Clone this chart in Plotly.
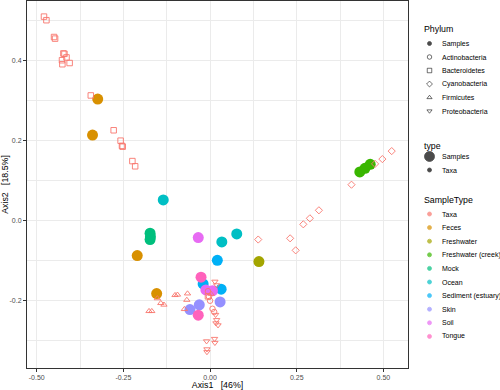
import plotly.graph_objects as go

W, H = 500, 390

# ---------------- data ----------------
# Sample points (Axis1, Axis2) per SampleType
feces_axis1 = [-0.324, -0.339, -0.210, -0.154]
feces_axis2 = [0.304, 0.214, -0.087, -0.182]
freshwater_axis1 = [0.141]
freshwater_axis2 = [-0.102]
creek_axis1 = [0.432, 0.447, 0.462]
creek_axis2 = [0.122, 0.131, 0.141]
mock_axis1 = [-0.173, -0.173, -0.172]
mock_axis2 = [-0.031, -0.047, -0.040]
ocean_axis1 = [-0.135, 0.034, 0.077]
ocean_axis2 = [0.052, -0.053, -0.033]
sediment_axis1 = [0.021, -0.020, 0.032]
sediment_axis2 = [-0.099, -0.158, -0.171]
skin_axis1 = [-0.058, -0.031, 0.029]
skin_axis2 = [-0.222, -0.210, -0.203]
soil_axis1 = [-0.034, -0.012, 0.007]
soil_axis2 = [-0.042, -0.173, -0.175]
tongue_axis1 = [-0.026, -0.034]
tongue_axis2 = [-0.141, -0.236]

# Taxa points (Axis1, Axis2) per Phylum
actino_axis1 = [-0.003, 0.000, 0.007, 0.012, -0.006]
actino_axis2 = [-0.190, -0.200, -0.220, -0.228, -0.176]
bactero_axis1 = [-0.479, -0.472, -0.450, -0.447, -0.423, -0.420, -0.414, -0.427, -0.426,
                 -0.405, -0.344, -0.278, -0.258, -0.254, -0.252, -0.224, -0.216, -0.006]
bactero_axis2 = [0.510, 0.501, 0.459, 0.455, 0.418, 0.417, 0.408, 0.401, 0.391,
                 0.394, 0.313, 0.226, 0.200, 0.187, 0.185, 0.149, 0.136, -0.189]
cyano_axis1 = [0.524, 0.497, 0.476, 0.408, 0.314, 0.288, 0.269, 0.231, 0.247, 0.139]
cyano_axis2 = [0.174, 0.154, 0.142, 0.090, 0.026, 0.006, -0.009, -0.044, -0.074, -0.047]
firmi_axis1 = [-0.152, -0.142, -0.133, -0.176, -0.168, -0.101, -0.094, -0.065, -0.067, -0.074, 0.003]
firmi_axis2 = [-0.194, -0.206, -0.210, -0.226, -0.226, -0.186, -0.185, -0.182, -0.198, -0.221, -0.183]
proteo_axis1 = [0.014, 0.019, 0.016, 0.019, 0.017, 0.023, -0.010, 0.013, 0.014, -0.009, -0.009]
proteo_axis2 = [-0.152, -0.161, -0.235, -0.248, -0.256, -0.261, -0.301, -0.295, -0.305, -0.321, -0.328]

sample_types = ["Taxa", "Feces", "Freshwater", "Freshwater (creek)", "Mock", "Ocean",
                "Sediment (estuary)", "Skin", "Soil", "Tongue"]
sample_colors = ["#F8766D", "#D89000", "#A3A500", "#39B600", "#00BF7D", "#00BFC4",
                 "#00B0F6", "#9590FF", "#E76BF3", "#FF62BC"]
phyla = ["Samples", "Actinobacteria", "Bacteroidetes", "Cyanobacteria", "Firmicutes", "Proteobacteria"]
phylum_symbols = ["circle", "circle-open", "square-open", "diamond-open", "triangle-up-open", "triangle-down-open"]
type_levels = ["Samples", "Taxa"]

x_ticks = [-0.5, -0.25, 0.0, 0.25, 0.5]
x_tick_labels = ["-0.50", "-0.25", "0.00", "0.25", "0.50"]
x_minor = [-0.375, -0.125, 0.125, 0.375]
y_ticks = [-0.2, 0.0, 0.2, 0.4]
y_tick_labels = ["-0.2", "0.0", "0.2", "0.4"]
y_minor = [-0.3, -0.1, 0.1, 0.3, 0.5]

# ---------------- figure ----------------
FONT = "Liberation Sans, Arial, Helvetica, sans-serif"
fig = go.Figure()

sample_groups = [
    (feces_axis1, feces_axis2), (freshwater_axis1, freshwater_axis2), (creek_axis1, creek_axis2),
    (mock_axis1, mock_axis2), (ocean_axis1, ocean_axis2), (sediment_axis1, sediment_axis2),
    (skin_axis1, skin_axis2), (soil_axis1, soil_axis2), (tongue_axis1, tongue_axis2),
]
for (xs, ys), name, col in zip(sample_groups, sample_types[1:], sample_colors[1:]):
    fig.add_trace(go.Scatter(x=xs, y=ys, mode="markers", name=name, showlegend=False,
                             marker=dict(color=col, size=11, symbol="circle", line=dict(width=0)),
                             xaxis="x", yaxis="y"))

taxa_groups = [(actino_axis1, actino_axis2), (bactero_axis1, bactero_axis2), (cyano_axis1, cyano_axis2),
               (firmi_axis1, firmi_axis2), (proteo_axis1, proteo_axis2)]
for (xs, ys), name, sym in zip(taxa_groups, phyla[1:], phylum_symbols[1:]):
    fig.add_trace(go.Scatter(x=xs, y=ys, mode="markers", name=name, showlegend=False,
                             marker=dict(color=sample_colors[0], size=5.5, symbol=sym,
                                         line=dict(color=sample_colors[0], width=0.9)),
                             xaxis="x", yaxis="y"))

# ---------------- manual ggplot-style legend (pixel coordinate overlay) ----------------
KEY_X, TEXT_X, TITLE_X = 429.5, 440, 422
STEP = 13.5
annotations = []
key_x, key_y, key_sym, key_col, key_size = [], [], [], [], []

def title(text, y):
    annotations.append(dict(text=text, x=TITLE_X, y=y, xref="x2", yref="y2", showarrow=False,
                            xanchor="left", yanchor="middle", font=dict(size=8.8, color="black", family=FONT)))

def item(text, y):
    annotations.append(dict(text=text, x=TEXT_X, y=y, xref="x2", yref="y2", showarrow=False,
                            xanchor="left", yanchor="middle", font=dict(size=7, color="black", family=FONT)))

title("Phylum", 29)
for i, (p, s) in enumerate(zip(phyla, phylum_symbols)):
    y = 43.5 + i * STEP
    item(p, y)
    key_x.append(KEY_X); key_y.append(y); key_sym.append(s); key_col.append("black")
    key_size.append(4 if s == "circle" else 4.5)

title("type", 146)
for i, t in enumerate(type_levels):
    y = 156.5 + i * STEP
    item(t, y)
    key_x.append(KEY_X); key_y.append(y); key_sym.append("circle"); key_col.append("black")
    key_size.append(10 if t == "Samples" else 4)

title("SampleType", 199.5)
for i, (t, c) in enumerate(zip(sample_types, sample_colors)):
    y = 214 + i * 13.6
    item(t, y)
    key_x.append(KEY_X); key_y.append(y); key_sym.append("circle"); key_col.append(c)
    key_size.append(4)

fig.add_trace(go.Scatter(x=key_x, y=key_y, mode="markers", showlegend=False, hoverinfo="skip",
                         marker=dict(symbol=key_sym, color=key_col, size=key_size,
                                     line=dict(color=key_col, width=0.8)),
                         xaxis="x2", yaxis="y2", cliponaxis=False))

axis_common = dict(
    showline=True, mirror=True, linecolor="#333333", linewidth=1,
    ticks="outside", ticklen=3, tickcolor="#333333", tickwidth=0.8,
    tickfont=dict(size=7, color="#4D4D4D", family=FONT),
    showgrid=True, gridcolor="#EBEBEB", gridwidth=0.9, zeroline=False,
    automargin=False,
)

fig.update_layout(
    width=W, height=H,
    margin=dict(l=0, r=0, t=0, b=0),
    paper_bgcolor="white", plot_bgcolor="rgba(0,0,0,0)",
    font=dict(family=FONT),
    showlegend=False,
    xaxis=dict(domain=[27 / W, 408 / W], range=[-0.528, 0.571], anchor="y",
               tickmode="array", tickvals=x_ticks, ticktext=x_tick_labels,
               minor=dict(tickmode="array", tickvals=x_minor, showgrid=True,
                          gridcolor="#EBEBEB", gridwidth=0.45, ticks=""),
               title=dict(text="Axis1\u00a0\u00a0\u00a0[46%]", font=dict(size=8.8, color="black", family=FONT),
                          standoff=2),
               **axis_common),
    yaxis=dict(domain=[(H - 368) / H, (H - 1) / H], range=[-0.368, 0.549], anchor="x",
               tickmode="array", tickvals=y_ticks, ticktext=y_tick_labels,
               minor=dict(tickmode="array", tickvals=y_minor, showgrid=True,
                          gridcolor="#EBEBEB", gridwidth=0.45, ticks=""),
               title=dict(text="Axis2\u00a0\u00a0\u00a0[18.5%]", font=dict(size=8.8, color="black", family=FONT),
                          standoff=2),
               **axis_common),
    xaxis2=dict(domain=[0, 1], range=[0, W], anchor="y2", visible=False, fixedrange=True),
    yaxis2=dict(domain=[0, 1], range=[H, 0], anchor="x2", visible=False, fixedrange=True),
    annotations=annotations,
)

fig.write_html("out.html", config={"displayModeBar": False},
               post_script="document.body.style.margin='0';document.body.style.padding='0';")
